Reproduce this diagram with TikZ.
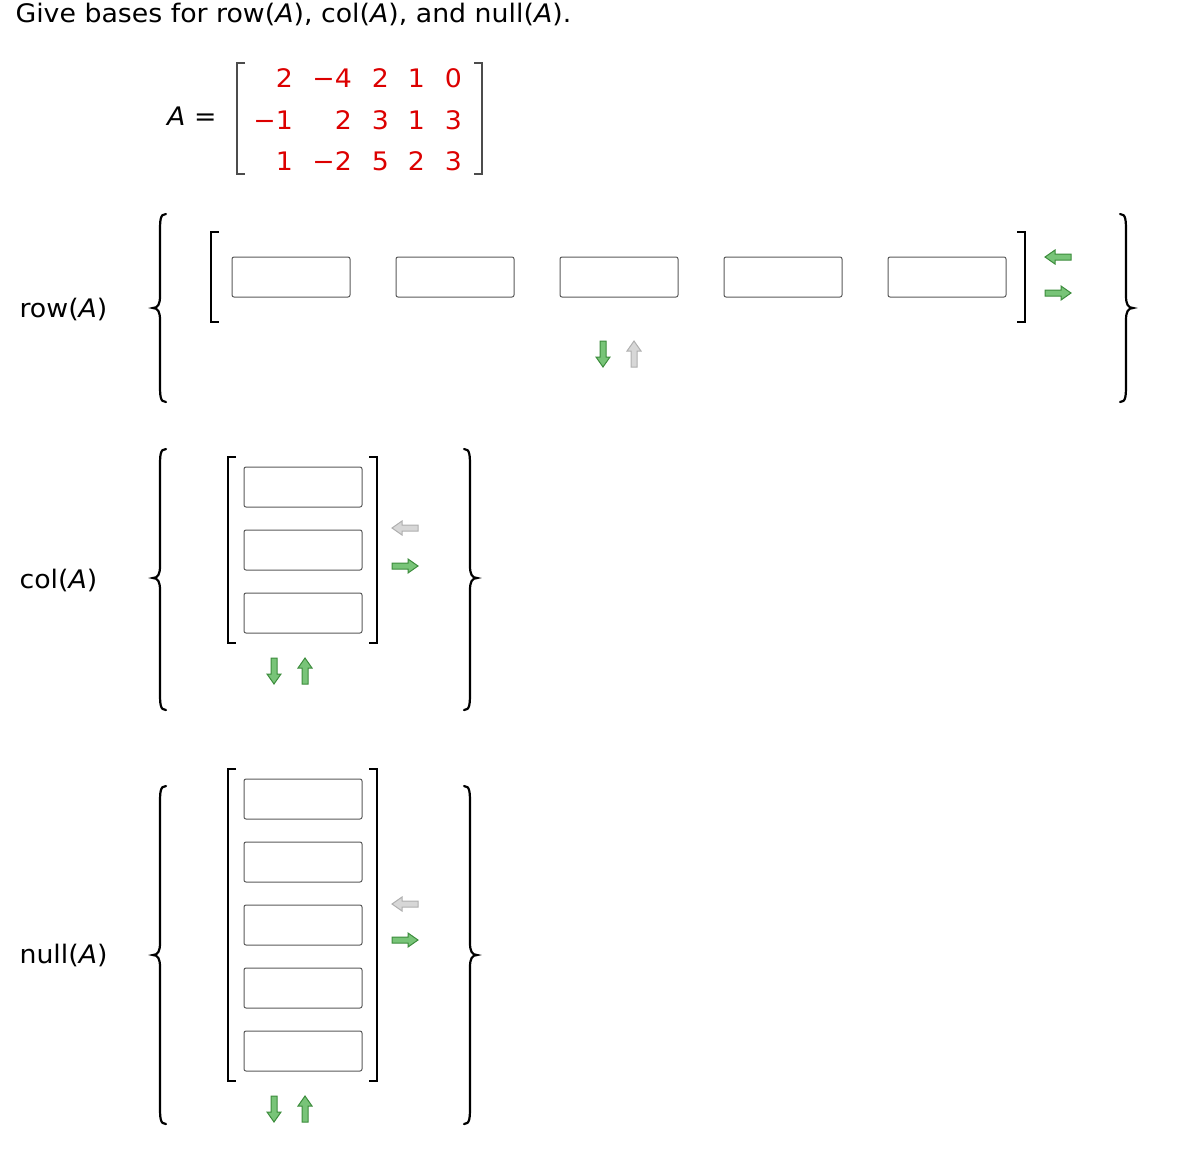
\documentclass[tikz,border=0pt]{standalone}
\usepackage{fontspec}
\setmainfont{DejaVu Sans}[FakeStretch=1.05]
\begin{document}
\definecolor{gfill}{RGB}{120,196,120}
\definecolor{gline}{RGB}{60,140,60}
\definecolor{yfill}{RGB}{215,215,215}
\definecolor{yline}{RGB}{175,175,175}
\definecolor{mred}{RGB}{220,0,0}
\newcommand\Brace[5]{\draw[brace] ({#1+6*#5},#2) .. controls (#1,#2) and (#1,#2+6) .. (#1,#2+20) -- (#1,#4-12) .. controls (#1,#4-4) and ({#1-2*#5},#4) .. ({#1-7*#5},#4) .. controls ({#1-2*#5},#4) and (#1,#4+4) .. (#1,#4+12) -- (#1,#3-20) .. controls (#1,#3-6) and (#1,#3) .. ({#1+6*#5},#3);}
\begin{tikzpicture}[x=1pt,y=-1pt,font=\fontsize{25.5}{29}\selectfont,
 brace/.style={line width=2.2pt,line cap=round},
 bx/.style={draw=gray!70!black,line width=1pt,rounded corners=2pt,minimum width=118pt,minimum height=40pt,inner sep=0pt},
 brk/.style={line width=1.6pt},
 num/.style={text=mred,anchor=base east,inner sep=0pt},
 barrow/.pic={\filldraw[line width=1pt] (-13,-3) -- (3,-3) -- (3,-7) -- (13,0) -- (3,7) -- (3,3) -- (-13,3) -- cycle;},
 ga/.style={fill=gfill,draw=gline},
 ya/.style={fill=yfill,draw=yline}]
\useasboundingbox (0,0) rectangle (1198,1159);
\node[anchor=west] (title) at (12,14) {Give bases for row(\textit{A}), col(\textit{A}), and null(\textit{A}).};
% matrix
\node[anchor=base east] (aeq) at (220,125) {\textit{A} =};
\draw[line width=2.2pt,gray!60!black] (245,63) -- (237,63) -- (237,174) -- (245,174);
\draw[line width=2.2pt,gray!60!black] (474,63) -- (482,63) -- (482,174) -- (474,174);
\foreach \r/\y in {{2,−4,2,1,0}/87,{−1,2,3,1,3}/129,{1,−2,5,2,3}/170}{
 \foreach \v [count=\c] in \r {
  \pgfmathsetmacro\xx{{0,293,352,389,425,462}[\c]}
  \node[num] at (\xx,\y) {\v};
 }}
% row
\node[anchor=west] (rl) at (16,310) {row(\textit{A})};
\Brace{160}{214}{402}{308}{1}
\Brace{1126}{214}{402}{308}{-1}
\draw[brk] (219,232) -- (211,232) -- (211,322) -- (219,322);
\draw[brk] (1017,232) -- (1025,232) -- (1025,322) -- (1017,322);
\foreach \x [count=\i] in {291,455,619,783,947} \node[bx] (r\i) at (\x,277) {};
\pic[ga,rotate=180] at (1058,257) {barrow};
\pic[ga] at (1058,293) {barrow};
\pic[ga,rotate=-90] at (603,354) {barrow};
\pic[ya,rotate=90] at (634,354) {barrow};
% col
\node[anchor=west] (cl) at (16,580) {col(\textit{A})};
\Brace{160}{449}{710}{578}{1}
\Brace{470}{449}{710}{578}{-1}
\draw[brk] (236,457) -- (228,457) -- (228,643) -- (236,643);
\draw[brk] (369,457) -- (377,457) -- (377,643) -- (369,643);
\foreach \y [count=\i] in {487,550,613} \node[bx] (c\i) at (303,\y) {};
\pic[ya,rotate=180] at (405,528) {barrow};
\pic[ga] at (405,566) {barrow};
\pic[ga,rotate=-90] at (274,671) {barrow};
\pic[ga,rotate=90] at (305,671) {barrow};
% null
\node[anchor=west] (nl) at (16,955) {null(\textit{A})};
\Brace{160}{786}{1124}{955}{1}
\Brace{470}{786}{1124}{955}{-1}
\draw[brk] (236,769) -- (228,769) -- (228,1081) -- (236,1081);
\draw[brk] (369,769) -- (377,769) -- (377,1081) -- (369,1081);
\foreach \y [count=\i] in {799,862,925,988,1051} \node[bx] (n\i) at (303,\y) {};
\pic[ya,rotate=180] at (405,904) {barrow};
\pic[ga] at (405,940) {barrow};
\pic[ga,rotate=-90] at (274,1109) {barrow};
\pic[ga,rotate=90] at (305,1109) {barrow};
\end{tikzpicture}
\end{document}
